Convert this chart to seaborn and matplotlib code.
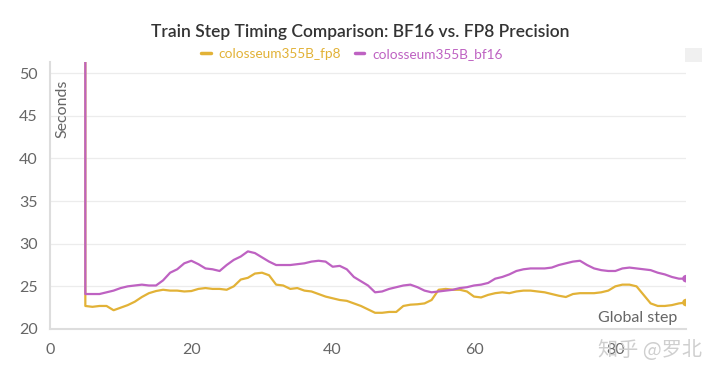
import pandas as pd
import matplotlib
matplotlib.use("Agg")
import matplotlib.pyplot as plt
import seaborn as sns
from matplotlib.lines import Line2D
from matplotlib.patches import Rectangle

# global step of each logged point (step 5 is logged twice: warm-up, then steady)
steps = [5] + list(range(5, 91))

# seconds per train step
fp8 = [52.0,
       22.7, 22.6, 22.7, 22.7, 22.2, 22.5, 22.8, 23.2, 23.75, 24.2,
       24.45, 24.6, 24.5, 24.5, 24.4, 24.45, 24.7, 24.8, 24.7, 24.7,
       24.6, 25.0, 25.8, 26.0, 26.5, 26.6, 26.3, 25.2, 25.1, 24.7,
       24.8, 24.5, 24.4, 24.1, 23.8, 23.6, 23.4, 23.3, 23.0, 22.7,
       22.3, 21.9, 21.9, 22.0, 22.0, 22.7, 22.85, 22.9, 23.0, 23.4,
       24.6, 24.7, 24.6, 24.6, 24.4, 23.8, 23.7, 24.0, 24.2, 24.3,
       24.2, 24.4, 24.5, 24.5, 24.4, 24.3, 24.1, 23.9, 23.75, 24.1,
       24.2, 24.2, 24.2, 24.3, 24.5, 25.0, 25.2, 25.2, 25.0, 24.0,
       23.0, 22.7, 22.7, 22.8, 23.0, 23.1]
bf16 = [52.0,
        24.1, 24.1, 24.1, 24.3, 24.5, 24.8, 25.0, 25.1, 25.2, 25.1,
        25.1, 25.7, 26.6, 27.0, 27.7, 28.0, 27.6, 27.1, 27.0, 26.8,
        27.5, 28.1, 28.5, 29.1, 28.9, 28.4, 27.9, 27.5, 27.5, 27.5,
        27.6, 27.7, 27.9, 28.0, 27.9, 27.3, 27.4, 27.0, 26.1, 25.6,
        25.1, 24.3, 24.4, 24.7, 24.9, 25.1, 25.2, 24.9, 24.5, 24.3,
        24.4, 24.5, 24.6, 24.8, 24.9, 25.1, 25.2, 25.4, 25.9, 26.1,
        26.4, 26.8, 27.0, 27.1, 27.1, 27.1, 27.2, 27.5, 27.7, 27.9,
        28.0, 27.5, 27.1, 26.9, 26.8, 26.8, 27.1, 27.2, 27.1, 27.0,
        26.9, 26.6, 26.4, 26.1, 25.9, 25.9]

runs = ["colosseum355B_fp8", "colosseum355B_bf16"]
colors = {"colosseum355B_fp8": "#E2B237", "colosseum355B_bf16": "#BE62C2"}

df = pd.concat([
    pd.DataFrame({"step": steps, "seconds": fp8, "run": runs[0]}),
    pd.DataFrame({"step": steps, "seconds": bf16, "run": runs[1]}),
])
last = df.groupby("run", sort=False).tail(1)

sns.set_theme(style="white")
plt.rcParams["font.family"] = ["Lato", "DejaVu Sans"]

fig = plt.figure(figsize=(7.2, 3.79), dpi=100)
ax = fig.add_axes([50 / 720, 1 - 329 / 379, 636 / 720, 267 / 379])

sns.lineplot(data=df, x="step", y="seconds", hue="run", palette=colors,
             estimator=None, sort=False, linewidth=1.6, legend=False, ax=ax)
sns.scatterplot(data=last, x="step", y="seconds", hue="run", palette=colors,
                s=30, edgecolor="none", legend=False, ax=ax, zorder=5)

ax.set_xlim(0, 90)
ax.set_ylim(20, 51.3)
ax.set_xticks([0, 20, 40, 60, 80])
ax.set_yticks([20, 25, 30, 35, 40, 45, 50])
ax.yaxis.grid(True, color="#ececec", linewidth=0.9)
ax.xaxis.grid(False)
for s in ["top", "right"]:
    ax.spines[s].set_visible(False)
for s in ["left", "bottom"]:
    ax.spines[s].set_color("#dddddd")
    ax.spines[s].set_linewidth(1.5)
ax.tick_params(axis="y", length=5, color="#e4e4e4", labelcolor="#666666",
               labelsize=11.5, pad=4)
ax.tick_params(axis="x", direction="inout", length=10, color="#dddddd",
               labelcolor="#666666", labelsize=11.5, pad=5)
ax.set_xlabel("")
ax.set_ylabel("")

ax.text(0.02, 0.935, "Seconds", transform=ax.transAxes, rotation=90,
        ha="center", va="top", fontsize=11.5, color="#666666")
ax.text(0.987, 0.04, "Global step", transform=ax.transAxes,
        ha="right", va="center", fontsize=11.5, color="#666666")

fig.text(0.5, 1 - 32 / 379, "Train Step Timing Comparison: BF16 vs. FP8 Precision",
         ha="center", va="center", fontsize=12.5, fontweight="semibold",
         color="#333333")

handles = [Line2D([0], [0], color=colors[r], linewidth=2.5) for r in runs]
fig.legend(handles, runs, loc="center", bbox_to_anchor=(352 / 720, 1 - 54 / 379),
           ncol=2, frameon=False, fontsize=9.8, handlelength=0.7,
           handletextpad=0.6, columnspacing=1.0, labelcolor="linecolor")

fig.patches.append(Rectangle((685 / 720, 1 - 62 / 379), 17 / 720, 14 / 379,
                             transform=fig.transFigure, facecolor="#f0f0f0",
                             edgecolor="none"))

fig.text(702 / 720, 1 - 350 / 379, "知乎 @罗北", ha="right", va="center",
         fontsize=14.5, color="#cfcfcf",
         family=["Noto Sans CJK SC", "DejaVu Sans"])

fig.savefig("out.png", dpi=100)
